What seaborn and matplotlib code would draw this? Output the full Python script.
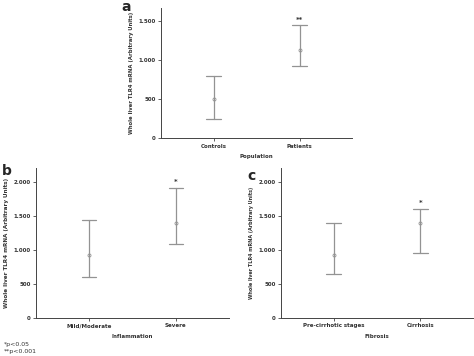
import matplotlib
matplotlib.use("Agg")
import matplotlib.pyplot as plt
import seaborn as sns
import pandas as pd
from matplotlib.ticker import FuncFormatter, MultipleLocator

# ---- data ----
pop_cats = ["Controls", "Patients"]
pop_mean = [500, 1130]
pop_low = [250, 925]
pop_high = [800, 1450]

infl_cats = ["Mild/Moderate", "Severe"]
infl_mean = [925, 1400]
infl_low = [610, 1090]
infl_high = [1450, 1920]

fib_cats = ["Pre-cirrhotic stages", "Cirrhosis"]
fib_mean = [925, 1400]
fib_low = [650, 950]
fib_high = [1400, 1600]

ylabel = "Whole liver TLR4 mRNA (Arbitrary Units)"

sns.set_style("ticks")
plt.rcParams['font.family'] = ['DejaVu Sans']

fig = plt.figure(figsize=(4.74, 3.56), dpi=100)

ERR_COLOR = "#939393"
FS = 4.0


def make_df(cats, low, mean, high):
    rows = []
    for c, l, m, h in zip(cats, low, mean, high):
        for v in (l, m, h):
            rows.append({"cat": c, "val": v})
    return pd.DataFrame(rows)


def panel(rect, cats, mean, low, high, xlabel, ymax, stars, star_y, letter, letter_xy, ylfs):
    ax = fig.add_axes(rect)
    df = make_df(cats, low, mean, high)
    sns.pointplot(data=df, x="cat", y="val", order=cats,
                  estimator="median",
                  errorbar=lambda v: (v.min(), v.max()),
                  capsize=0.17, linestyle="none", color=ERR_COLOR,
                  err_kws={"linewidth": 0.9},
                  markers="o", markersize=2.2, markerfacecolor="white",
                  markeredgewidth=0.6, ax=ax)
    ax.set_xlim(-0.61, 1.61)
    ax.set_ylim(0, ymax)
    ax.yaxis.set_major_locator(MultipleLocator(500))
    ax.yaxis.set_major_formatter(FuncFormatter(lambda v, p: f"{int(v):,}".replace(",", ".")))
    for s in ["top", "right"]:
        ax.spines[s].set_visible(False)
    for s in ["left", "bottom"]:
        ax.spines[s].set_color("#444444")
        ax.spines[s].set_linewidth(0.7)
    ax.tick_params(axis="both", labelsize=FS, length=2, width=0.6, colors="#444444",
                   labelcolor="#333333", pad=2)
    for lab in ax.get_xticklabels() + ax.get_yticklabels():
        lab.set_fontweight("bold")
    ax.set_xlabel(xlabel, fontsize=FS, fontweight="bold", color="#333333", labelpad=4)
    ax.set_ylabel(ylabel, fontsize=ylfs, fontweight="bold", color="#333333", labelpad=3)
    for i, (s, y) in enumerate(zip(stars, star_y)):
        if s:
            ax.text(i, y, s, ha="center", va="center", fontsize=5, fontweight="bold", color="#333333")
    fig.text(letter_xy[0], letter_xy[1], letter, fontsize=10, fontweight="bold",
             ha="left", va="top")
    return ax


panel([0.340, 0.612, 0.403, 0.366], pop_cats, pop_mean, pop_low, pop_high,
      "Population", 1670, ["", "**"], [0, 1510], "a", (0.257, 1.0), 3.75)
panel([0.076, 0.107, 0.407, 0.421], infl_cats, infl_mean, infl_low, infl_high,
      "Inflammation", 2210, ["", "*"], [0, 2010], "b", (0.003, 0.538), 4.1)
panel([0.593, 0.107, 0.405, 0.421], fib_cats, fib_mean, fib_low, fib_high,
      "Fibrosis", 2210, ["", "*"], [0, 1700], "c", (0.522, 0.525), 3.5)

fig.text(0.008, 0.032, "*p<0.05", fontsize=4.5, color="#333333", va="center")
fig.text(0.008, 0.012, "**p<0.001", fontsize=4.5, color="#333333", va="center")

fig.savefig("out.png", dpi=100)
